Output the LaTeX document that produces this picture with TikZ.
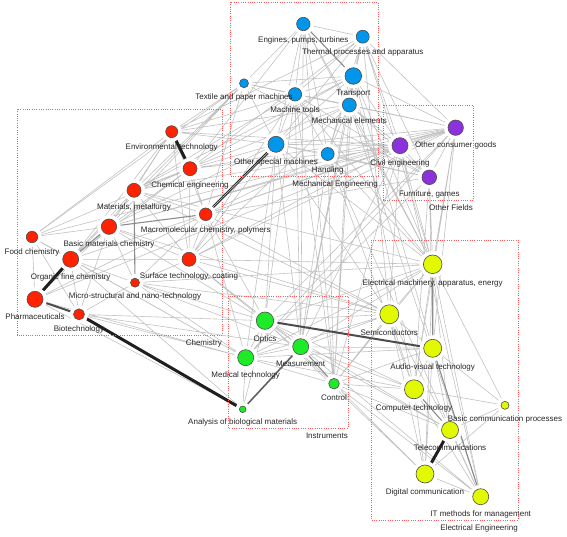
\documentclass[tikz,border=0pt]{standalone}
\usepackage{fontspec}
\setmainfont{Liberation Sans}
\usetikzlibrary{positioning,backgrounds}
\definecolor{chemred}{RGB}{255,34,0}
\definecolor{mechblue}{RGB}{0,150,235}
\definecolor{otherpurple}{RGB}{140,50,220}
\definecolor{instgreen}{RGB}{30,235,40}
\definecolor{elecyellow}{RGB}{225,250,0}
\begin{document}
\begin{tikzpicture}[x=1pt, y=-1pt, font=\fontsize{8}{9}\selectfont,
    fieldnode/.style={circle, draw=black!70, line width=0.6pt, inner sep=0pt,
      preaction={draw=white, line width=8pt}},
    fieldlbl/.style={inner sep=0pt, text=black!85},
    grouplbl/.style={inner sep=0pt, text=black!85, anchor=north east, yshift=-4.5pt},
    clusterbox/.style={draw=red!65, line width=0.6pt, dash pattern=on 0.9pt off 1.4pt},
    link/.style={black!24, line width=0.6pt},
    midlink/.style={black!45, line width=1.1pt},
    strong/.style={black!70, line width=2pt},
    heavy/.style={black!88, line width=3pt}]
  \useasboundingbox (0,0) rectangle (567,537);

  % cluster frames
  \draw[clusterbox] (17,109) rectangle (222,335);
  \draw[clusterbox] (230,2) rectangle (378,176);
  \draw[clusterbox] (383,105) rectangle (473,200);
  \draw[clusterbox] (228,296) rectangle (348,428);
  \draw[clusterbox] (371,240) rectangle (518,520);
  \node[grouplbl] (chem-g) at (222,335) {Chemistry};
  \node[grouplbl] (mech-g) at (378,176) {Mechanical Engineering};
  \node[grouplbl] (other-g) at (473,200) {Other Fields};
  \node[grouplbl] (inst-g) at (348,428) {Instruments};
  \node[grouplbl] (elec-g) at (518,520) {Electrical Engineering};

  % Chemistry
  \node[fieldnode, fill=chemred, minimum size=12pt] (env) at (171.7,131.7) {};
  \node[fieldnode, fill=chemred, minimum size=14pt] (cheng) at (190,168.7) {};
  \node[fieldnode, fill=chemred, minimum size=14pt] (matmet) at (134,190.3) {};
  \node[fieldnode, fill=chemred, minimum size=12.6pt] (macro) at (205.7,214.3) {};
  \node[fieldnode, fill=chemred, minimum size=15.4pt] (basicmat) at (109,226.7) {};
  \node[fieldnode, fill=chemred, minimum size=11.4pt] (food) at (32,237) {};
  \node[fieldnode, fill=chemred, minimum size=16pt] (organic) at (70.7,259.3) {};
  \node[fieldnode, fill=chemred, minimum size=14pt] (surface) at (189,259.3) {};
  \node[fieldnode, fill=chemred, minimum size=9pt] (micro) at (135,282.7) {};
  \node[fieldnode, fill=chemred, minimum size=16pt] (pharma) at (35,299.3) {};
  \node[fieldnode, fill=chemred, minimum size=11pt] (biotech) at (79,314.3) {};

  % Mechanical Engineering
  \node[fieldnode, fill=mechblue, minimum size=13.4pt] (engines) at (303.3,24) {};
  \node[fieldnode, fill=mechblue, minimum size=13pt] (thermal) at (362.7,36.7) {};
  \node[fieldnode, fill=mechblue, minimum size=16.6pt] (transport) at (353.3,76) {};
  \node[fieldnode, fill=mechblue, minimum size=9pt] (textile) at (244,83.3) {};
  \node[fieldnode, fill=mechblue, minimum size=13.4pt] (machtools) at (295,94.3) {};
  \node[fieldnode, fill=mechblue, minimum size=14pt] (mechel) at (349.3,105) {};
  \node[fieldnode, fill=mechblue, minimum size=16pt] (otherspec) at (276,144.3) {};
  \node[fieldnode, fill=mechblue, minimum size=13pt] (handling) at (327.7,154) {};

  % Other Fields
  \node[fieldnode, fill=otherpurple, minimum size=15.4pt] (consumer) at (455.7,127.7) {};
  \node[fieldnode, fill=otherpurple, minimum size=16pt] (civil) at (400,145.7) {};
  \node[fieldnode, fill=otherpurple, minimum size=14.6pt] (furniture) at (429.3,177.3) {};

  % Instruments
  \node[fieldnode, fill=instgreen, minimum size=17.4pt] (optics) at (265,320.7) {};
  \node[fieldnode, fill=instgreen, minimum size=16pt] (measure) at (300.7,346.7) {};
  \node[fieldnode, fill=instgreen, minimum size=16pt] (medical) at (245.7,357.7) {};
  \node[fieldnode, fill=instgreen, minimum size=10.6pt] (control) at (334,383.7) {};
  \node[fieldnode, fill=instgreen, minimum size=6.6pt] (bioanalysis) at (242.7,409.3) {};

  % Electrical Engineering
  \node[fieldnode, fill=elecyellow, minimum size=18.6pt] (elmach) at (432.7,264.3) {};
  \node[fieldnode, fill=elecyellow, minimum size=19pt] (semi) at (389.3,314.3) {};
  \node[fieldnode, fill=elecyellow, minimum size=18pt] (audiov) at (432.7,348.3) {};
  \node[fieldnode, fill=elecyellow, minimum size=19pt] (comptech) at (414,389.3) {};
  \node[fieldnode, fill=elecyellow, minimum size=8pt] (basiccom) at (505,405.3) {};
  \node[fieldnode, fill=elecyellow, minimum size=17pt] (telecom) at (450,430) {};
  \node[fieldnode, fill=elecyellow, minimum size=18pt] (digcom) at (425,474) {};
  \node[fieldnode, fill=elecyellow, minimum size=16pt] (itmeth) at (480.7,496.7) {};

  % labels
  \node[fieldlbl, below=5.5pt of env] (env-l) {Environmental technology};
  \node[fieldlbl, below=5.5pt of cheng] (cheng-l) {Chemical engineering};
  \node[fieldlbl, below=5.5pt of matmet] (matmet-l) {Materials, metallurgy};
  \node[fieldlbl, below=5.5pt of macro] (macro-l) {Macromolecular chemistry, polymers};
  \node[fieldlbl, below=5.5pt of basicmat] (basicmat-l) {Basic materials chemistry};
  \node[fieldlbl, below=5.5pt of food] (food-l) {Food chemistry};
  \node[fieldlbl, below=5.5pt of organic] (organic-l) {Organic fine chemistry};
  \node[fieldlbl, below=5.5pt of surface] (surface-l) {Surface technology, coating};
  \node[fieldlbl, below=5.5pt of micro] (micro-l) {Micro-structural and nano-technology};
  \node[fieldlbl, below=5.5pt of pharma] (pharma-l) {Pharmaceuticals};
  \node[fieldlbl, below=5.5pt of biotech] (biotech-l) {Biotechnology};
  \node[fieldlbl, below=5.5pt of engines] (engines-l) {Engines, pumps, turbines};
  \node[fieldlbl, below=5.5pt of thermal] (thermal-l) {Thermal processes and apparatus};
  \node[fieldlbl, below=5.5pt of transport] (transport-l) {Transport};
  \node[fieldlbl, below=5.5pt of textile] (textile-l) {Textile and paper machines};
  \node[fieldlbl, below=5.5pt of machtools] (machtools-l) {Machine tools};
  \node[fieldlbl, below=5.5pt of mechel] (mechel-l) {Mechanical elements};
  \node[fieldlbl, below=5.5pt of otherspec] (otherspec-l) {Other special machines};
  \node[fieldlbl, below=5.5pt of handling] (handling-l) {Handling};
  \node[fieldlbl, below=5.5pt of consumer] (consumer-l) {Other consumer goods};
  \node[fieldlbl, below=5.5pt of civil] (civil-l) {Civil engineering};
  \node[fieldlbl, below=5.5pt of furniture] (furniture-l) {Furniture, games};
  \node[fieldlbl, below=5.5pt of optics] (optics-l) {Optics};
  \node[fieldlbl, below=5.5pt of measure] (measure-l) {Measurement};
  \node[fieldlbl, below=5.5pt of medical] (medical-l) {Medical technology};
  \node[fieldlbl, below=5.5pt of control] (control-l) {Control};
  \node[fieldlbl, below=5.5pt of bioanalysis] (bioanalysis-l) {Analysis of biological materials};
  \node[fieldlbl, below=5.5pt of elmach] (elmach-l) {Electrical machinery, apparatus, energy};
  \node[fieldlbl, below=5.5pt of semi] (semi-l) {Semiconductors};
  \node[fieldlbl, below=5.5pt of audiov] (audiov-l) {Audio-visual technology};
  \node[fieldlbl, below=5.5pt of comptech] (comptech-l) {Computer technology};
  \node[fieldlbl, below=5.5pt of basiccom] (basiccom-l) {Basic communication processes};
  \node[fieldlbl, below=5.5pt of telecom] (telecom-l) {Telecommunications};
  \node[fieldlbl, below=5.5pt of digcom] (digcom-l) {Digital communication};
  \node[fieldlbl, below=5.5pt of itmeth] (itmeth-l) {IT methods for management};

  \begin{pgfonlayer}{background}
  % weak links
  \draw[link] (env)--(matmet) (env)--(macro) (env)--(basicmat) (env)--(surface)
    (env)--(food) (env)--(organic) (cheng)--(matmet) (cheng)--(macro)
    (cheng)--(basicmat) (cheng)--(surface) (cheng)--(organic) (cheng)--(food)
    (matmet)--(macro) (matmet)--(basicmat) (matmet)--(surface) (matmet)--(organic)
    (basicmat)--(surface) (basicmat)--(food) (basicmat)--(pharma) (basicmat)--(micro)
    (basicmat)--(biotech) (macro)--(surface) (macro)--(organic) (macro)--(pharma)
    (macro)--(micro) (food)--(organic) (food)--(pharma) (food)--(biotech)
    (organic)--(biotech) (organic)--(surface) (organic)--(micro) (surface)--(micro)
    (biotech)--(micro);
  \draw[link] (env)--(textile) (env)--(otherspec) (env)--(machtools) (env)--(thermal)
    (env)--(civil) (env)--(mechel) (cheng)--(otherspec) (cheng)--(thermal)
    (cheng)--(handling) (cheng)--(consumer) (cheng)--(engines) (cheng)--(transport)
    (matmet)--(textile) (matmet)--(machtools) (matmet)--(mechel) (matmet)--(semi)
    (matmet)--(civil) (matmet)--(transport) (matmet)--(elmach)
    (macro)--(textile) (macro)--(consumer) (macro)--(civil) (macro)--(furniture)
    (macro)--(medical) (macro)--(optics) (macro)--(semi) (macro)--(handling)
    (basicmat)--(otherspec) (basicmat)--(textile) (basicmat)--(semi)
    (basicmat)--(consumer) (basicmat)--(civil) (basicmat)--(optics)
    (surface)--(semi) (surface)--(optics) (surface)--(machtools) (surface)--(otherspec)
    (surface)--(consumer) (surface)--(civil) (surface)--(elmach) (surface)--(mechel)
    (surface)--(measure) (micro)--(semi) (micro)--(optics) (micro)--(measure)
    (micro)--(medical) (micro)--(elmach) (pharma)--(medical) (pharma)--(bioanalysis)
    (pharma)--(consumer) (biotech)--(medical) (biotech)--(measure) (biotech)--(optics)
    (food)--(medical) (food)--(textile) (food)--(consumer) (organic)--(medical)
    (organic)--(bioanalysis) (organic)--(textile);
  \draw[link] (engines)--(thermal) (engines)--(machtools) (engines)--(mechel)
    (engines)--(textile) (engines)--(handling) (engines)--(otherspec)
    (thermal)--(transport) (thermal)--(mechel) (thermal)--(machtools)
    (thermal)--(otherspec) (thermal)--(handling) (transport)--(mechel)
    (transport)--(machtools) (transport)--(handling) (transport)--(otherspec)
    (transport)--(textile) (textile)--(machtools) (textile)--(otherspec)
    (textile)--(mechel) (machtools)--(mechel) (machtools)--(otherspec)
    (machtools)--(handling) (mechel)--(otherspec) (mechel)--(handling)
    (otherspec)--(handling);
  \draw[link] (engines)--(elmach) (engines)--(control) (engines)--(measure)
    (thermal)--(consumer) (thermal)--(civil) (thermal)--(furniture) (thermal)--(elmach)
    (thermal)--(semi) (transport)--(civil) (transport)--(consumer) (transport)--(elmach)
    (transport)--(control) (transport)--(comptech) (transport)--(measure)
    (transport)--(audiov) (textile)--(consumer) (textile)--(furniture)
    (machtools)--(elmach) (machtools)--(control) (machtools)--(measure)
    (machtools)--(optics) (machtools)--(consumer) (machtools)--(furniture)
    (mechel)--(civil) (mechel)--(consumer) (mechel)--(furniture) (mechel)--(elmach)
    (mechel)--(control) (mechel)--(measure) (mechel)--(itmeth)
    (otherspec)--(consumer) (otherspec)--(civil) (otherspec)--(medical)
    (otherspec)--(optics) (otherspec)--(measure) (otherspec)--(furniture)
    (otherspec)--(elmach) (otherspec)--(semi) (handling)--(consumer)
    (handling)--(civil) (handling)--(furniture) (handling)--(control)
    (handling)--(comptech) (handling)--(itmeth) (handling)--(measure)
    (handling)--(elmach);
  \draw[link] (consumer)--(civil) (consumer)--(furniture) (civil)--(furniture)
    (consumer)--(elmach) (consumer)--(audiov) (consumer)--(medical) (consumer)--(optics)
    (consumer)--(comptech) (civil)--(elmach) (civil)--(control) (civil)--(measure)
    (civil)--(itmeth) (civil)--(semi) (furniture)--(audiov) (furniture)--(comptech)
    (furniture)--(medical) (furniture)--(elmach);
  \draw[link] (optics)--(measure) (optics)--(medical) (optics)--(control)
    (optics)--(bioanalysis) (measure)--(medical) (medical)--(bioanalysis)
    (medical)--(control) (optics)--(elmach) (optics)--(comptech) (optics)--(telecom)
    (optics)--(digcom) (optics)--(semi) (measure)--(elmach) (measure)--(comptech)
    (measure)--(semi) (measure)--(audiov) (measure)--(telecom) (measure)--(itmeth)
    (medical)--(comptech) (medical)--(elmach) (medical)--(semi) (medical)--(audiov)
    (control)--(elmach) (control)--(comptech) (control)--(semi) (control)--(telecom)
    (control)--(itmeth) (control)--(digcom) (control)--(audiov);
  \draw[link] (elmach)--(semi) (elmach)--(comptech) (elmach)--(telecom)
    (elmach)--(digcom) (elmach)--(basiccom) (elmach)--(itmeth) (semi)--(audiov)
    (semi)--(comptech) (semi)--(telecom) (semi)--(digcom) (audiov)--(comptech)
    (audiov)--(telecom) (audiov)--(digcom) (audiov)--(basiccom) (comptech)--(digcom)
    (comptech)--(basiccom) (comptech)--(itmeth) (telecom)--(basiccom)
    (telecom)--(itmeth) (digcom)--(basiccom) (digcom)--(itmeth);

  % stronger links
  \draw[midlink] (basicmat)--(macro) (organic)--(basicmat) (matmet)--(micro)
    (engines)--(transport) (elmach)--(audiov) (comptech)--(telecom)
    (audiov)--(itmeth) (measure)--(control);
  \draw[strong] (optics)--(audiov) (pharma)--(biotech);
  \draw[strong, line width=1.6pt, black!62] (measure)--(bioanalysis);
  \draw[heavy] (pharma)--(organic) (env)--(cheng) (telecom)--(digcom)
    (biotech)--(bioanalysis);
  \draw[black!90, line width=0.8pt, double=black!35, double distance=0.9pt]
    (macro)--(otherspec);
  \end{pgfonlayer}
\end{tikzpicture}
\end{document}
